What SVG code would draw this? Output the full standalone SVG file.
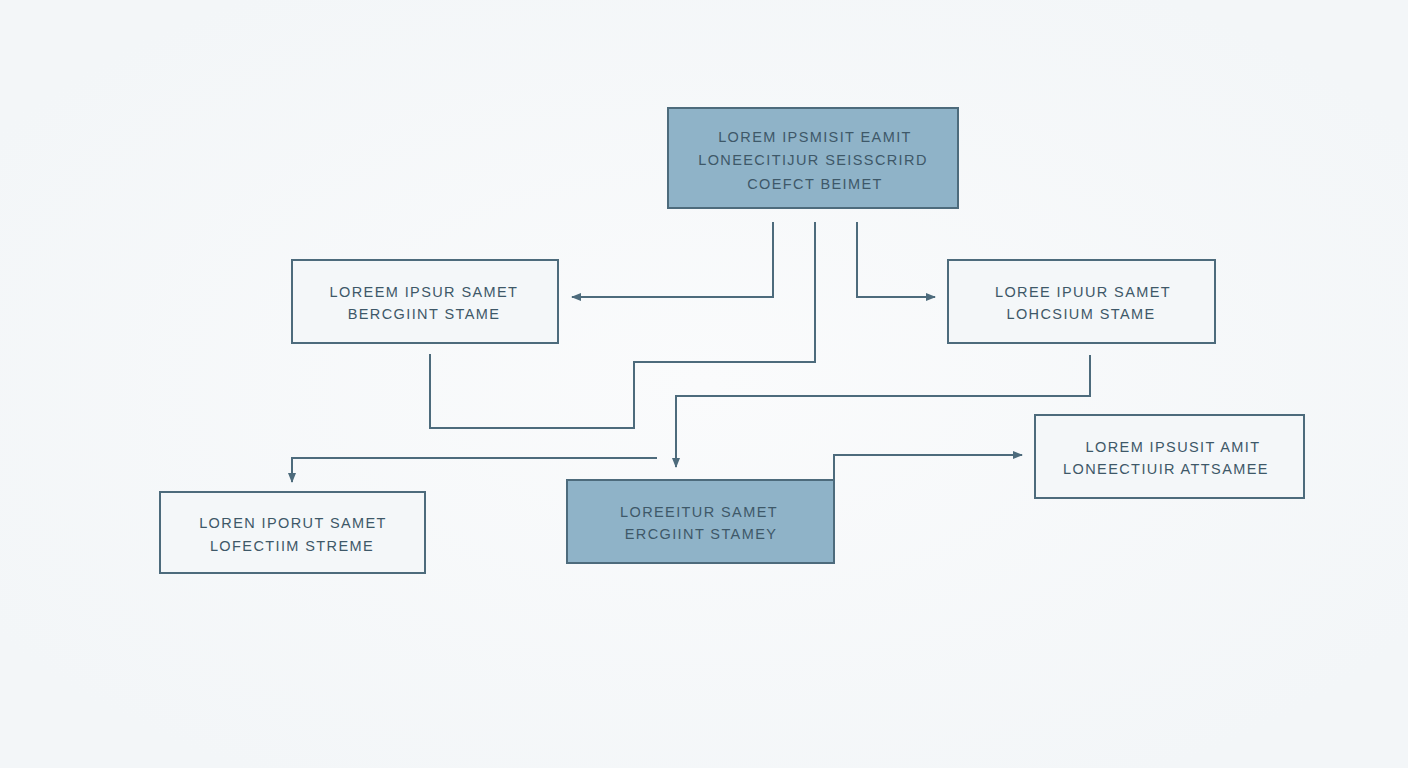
<svg xmlns="http://www.w3.org/2000/svg" width="1408" height="768" viewBox="0 0 1408 768">
<defs>
<style>
.box{fill:#f4f7f9;stroke:#4d6b7c;stroke-width:2}
.blue{fill:#8fb3c8;stroke:#4d6b7c;stroke-width:2}
.t{font-family:"Liberation Sans",Arial,sans-serif;font-size:14.5px;fill:#3e5868;text-anchor:middle;letter-spacing:1.4px}
.c{fill:none;stroke:#4d6b7c;stroke-width:2}
</style>
<marker id="ah" viewBox="0 0 10 10" refX="9" refY="5" markerWidth="5" markerHeight="5" orient="auto">
<path d="M0,1 L10,5 L0,9 z" fill="#4d6b7c"/>
</marker>
<radialGradient id="bg" cx="50%" cy="50%" r="60%">
<stop offset="0" stop-color="#fafbfc"/>
<stop offset="1" stop-color="#f3f6f8"/>
</radialGradient>
</defs>
<rect width="1408" height="768" fill="url(#bg)"/>
<g id="connectors">
<path class="c" d="M773,222 V297 H572" marker-end="url(#ah)"/>
<path class="c" d="M857,222 V297 H935" marker-end="url(#ah)"/>
<path class="c" d="M815,222 V362 H634 V428 H430 V354"/>
<path class="c" d="M1090,355 V396 H676 V467" marker-end="url(#ah)"/>
<path class="c" d="M657,458 H292 V482" marker-end="url(#ah)"/>
<path class="c" d="M834,480 V455 H1022" marker-end="url(#ah)"/>
</g>
<g id="node-top">
<rect class="blue" x="668" y="108" width="290" height="100"/>
<text class="t" x="815" y="142">LOREM IPSMISIT EAMIT</text>
<text class="t" x="813" y="165">LONEECITIJUR SEISSCRIRD</text>
<text class="t" x="815" y="189">COEFCT BEIMET</text>
</g>
<g id="node-left">
<rect class="box" x="292" y="260" width="266" height="83"/>
<text class="t" x="424" y="297">LOREEM IPSUR SAMET</text>
<text class="t" x="424" y="319">BERCGIINT STAME</text>
</g>
<g id="node-right">
<rect class="box" x="948" y="260" width="267" height="83"/>
<text class="t" x="1083" y="297">LOREE IPUUR SAMET</text>
<text class="t" x="1081" y="319">LOHCSIUM STAME</text>
</g>
<g id="node-bottom-left">
<rect class="box" x="160" y="492" width="265" height="81"/>
<text class="t" x="293" y="528">LOREN IPORUT SAMET</text>
<text class="t" x="292" y="551">LOFECTIIM STREME</text>
</g>
<g id="node-bottom-mid">
<rect class="blue" x="567" y="480" width="267" height="83"/>
<text class="t" x="699" y="517">LOREEITUR SAMET</text>
<text class="t" x="701" y="539">ERCGIINT STAMEY</text>
</g>
<g id="node-right-lower">
<rect class="box" x="1035" y="415" width="269" height="83"/>
<text class="t" x="1173" y="452">LOREM IPSUSIT AMIT</text>
<text class="t" x="1166" y="474">LONEECTIUIR ATTSAMEE</text>
</g>
</svg>
